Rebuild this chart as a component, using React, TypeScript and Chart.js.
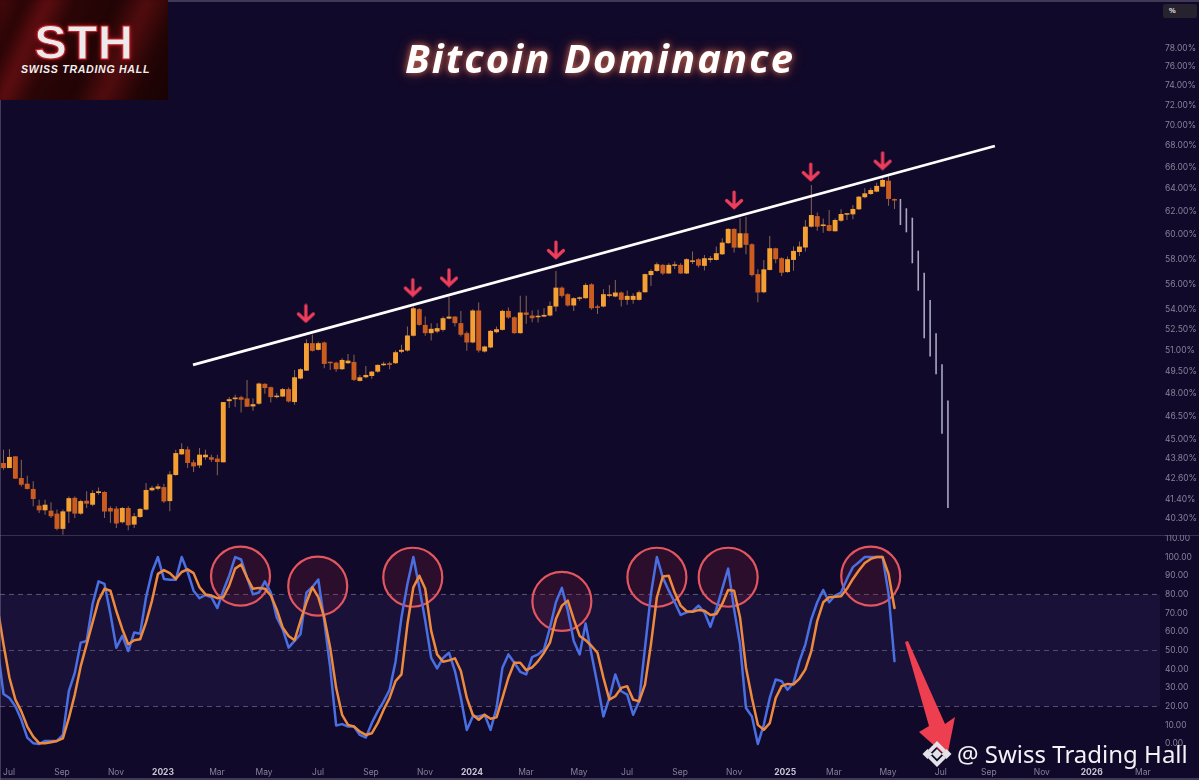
import React, { useEffect, useRef } from "react";
import { Chart, registerables } from "chart.js";

Chart.register(...registerables);

// Weekly candles: index 0 is the first week of the visible range.
const candleOpen = [
  43.55, 43.24, 43.96, 42.64, 42.30, 41.99, 41.02, 40.75, 40.73, 40.56,
  39.70, 40.68, 41.47, 40.56, 41.30, 41.07, 41.75, 41.81, 40.88, 40.85,
  40.07, 40.88, 39.94, 40.37, 40.79, 41.91, 42.00, 42.10, 41.28, 42.82,
  44.08, 44.39, 43.59, 43.40, 43.90, 43.90, 43.82, 43.59, 47.50, 47.63,
  47.77, 47.68, 47.15, 47.33, 48.67, 48.44, 47.77, 47.81, 48.31, 47.44,
  49.03, 49.58, 51.53, 51.05, 51.58, 50.17, 50.14, 49.68, 50.10, 50.19,
  48.87, 49.12, 49.21, 49.51, 49.96, 50.10, 50.10, 50.91, 51.00, 52.07,
  54.05, 52.87, 52.26, 52.38, 52.50, 53.34, 53.49, 53.00, 52.26, 51.58,
  53.95, 50.93, 51.22, 52.33, 52.50, 53.92, 53.44, 52.26, 53.80, 53.57,
  53.44, 53.49, 53.57, 54.25, 55.71, 55.20, 54.33, 54.84, 54.89, 55.97,
  54.25, 54.25, 55.07, 55.02, 55.33, 54.76, 54.76, 54.76, 55.35, 56.70,
  57.03, 57.52, 56.83, 57.44, 57.52, 56.83, 57.76, 57.98, 57.44, 57.92,
  57.92, 58.38, 59.30, 60.50, 58.93, 60.13, 59.21, 56.78, 55.35, 57.11,
  58.88, 58.06, 56.94, 57.92, 58.57, 58.94, 60.69, 61.60, 60.74, 60.83,
  60.30, 61.20, 61.72, 61.75, 62.19, 63.25, 63.54, 63.75, 64.20, 64.74,
  63.08,
];
const candleHigh = [
  44.37, 44.41, 43.96, 43.75, 42.78, 42.44, 41.36, 41.36, 41.21, 40.79,
  40.79, 41.55, 41.55, 41.36, 41.85, 41.91, 42.08, 41.85, 40.98, 40.98,
  40.94, 40.98, 40.60, 40.88, 42.34, 42.18, 42.30, 42.30, 43.04, 44.37,
  44.78, 44.57, 43.75, 44.47, 44.37, 44.06, 44.06, 47.44, 47.77, 47.93,
  47.86, 48.94, 47.70, 48.76, 48.71, 48.49, 48.04, 48.38, 48.42, 49.63,
  49.75, 51.82, 52.14, 51.65, 51.65, 50.21, 50.21, 50.45, 50.76, 50.69,
  49.28, 49.91, 49.56, 50.03, 50.21, 50.21, 51.00, 51.41, 52.75, 54.25,
  54.12, 53.49, 53.00, 53.00, 53.49, 55.02, 53.54, 53.92, 52.38, 54.05,
  54.56, 51.34, 52.50, 52.75, 54.00, 54.17, 53.49, 55.07, 55.07, 53.95,
  54.00, 54.12, 54.63, 57.03, 55.79, 55.28, 54.97, 55.02, 56.05, 56.05,
  54.38, 55.58, 55.92, 56.31, 55.40, 55.48, 55.28, 55.48, 56.83, 57.16,
  57.71, 57.60, 57.65, 57.79, 57.65, 58.06, 58.60, 58.06, 58.33, 58.25,
  59.02, 59.71, 60.55, 60.55, 61.41, 61.55, 59.30, 57.16, 57.92, 59.91,
  58.93, 58.14, 58.19, 59.02, 59.43, 61.26, 64.35, 61.90, 61.40, 62.13,
  61.40, 62.19, 61.84, 62.57, 63.37, 64.05, 64.10, 64.55, 64.97, 65.40,
  63.15,
];
const candleLow = [
  43.14, 43.24, 42.60, 42.14, 41.95, 40.98, 40.60, 40.50, 40.31, 39.62,
  39.38, 40.03, 40.31, 40.50, 40.88, 40.98, 41.65, 40.31, 40.03, 39.75,
  40.00, 39.62, 39.75, 40.31, 40.75, 41.85, 41.91, 41.17, 40.69, 42.78,
  44.04, 43.24, 43.00, 43.24, 43.75, 43.61, 42.80, 43.59, 47.04, 47.11,
  46.75, 47.11, 46.86, 47.26, 47.99, 47.41, 47.70, 47.77, 47.41, 47.26,
  48.99, 49.56, 50.93, 51.00, 49.75, 49.63, 49.51, 49.63, 50.05, 48.87,
  48.83, 49.05, 49.01, 49.44, 49.91, 49.68, 50.05, 50.81, 50.93, 52.02,
  52.80, 52.07, 51.73, 52.26, 52.38, 53.29, 52.75, 52.02, 50.98, 51.53,
  50.86, 50.86, 51.17, 52.26, 52.45, 53.32, 52.21, 52.21, 52.95, 53.07,
  53.05, 53.44, 53.49, 53.87, 54.94, 54.25, 53.92, 54.68, 54.84, 54.00,
  53.69, 54.20, 54.97, 54.97, 54.25, 54.38, 54.46, 54.71, 55.33, 55.84,
  56.97, 56.70, 56.78, 57.19, 56.78, 56.78, 57.60, 57.30, 57.06, 57.71,
  57.87, 58.33, 59.24, 58.52, 58.88, 58.38, 56.58, 54.58, 55.28, 57.06,
  57.65, 56.63, 56.89, 57.05, 58.25, 58.60, 60.63, 60.35, 60.18, 60.27,
  60.27, 61.12, 61.26, 61.32, 62.13, 63.16, 63.45, 63.69, 64.14, 62.50,
  62.22,
];
const candleClose = [
  43.24, 43.92, 42.60, 42.24, 41.99, 41.40, 40.75, 41.07, 40.41, 39.70,
  40.69, 41.45, 40.56, 41.28, 41.13, 41.75, 41.85, 40.68, 40.68, 40.00,
  40.88, 39.90, 40.41, 40.83, 41.93, 42.06, 42.14, 41.26, 42.86, 44.16,
  44.41, 43.55, 43.34, 44.06, 44.06, 43.75, 43.61, 47.44, 47.63, 47.74,
  47.59, 47.13, 47.30, 48.69, 48.38, 47.77, 47.86, 48.31, 47.48, 49.12,
  49.68, 51.53, 50.98, 51.53, 50.05, 50.10, 49.68, 50.33, 50.28, 48.94,
  49.12, 49.28, 49.51, 49.98, 50.05, 49.98, 50.88, 51.05, 52.09, 54.12,
  52.87, 52.26, 52.58, 52.63, 53.37, 53.49, 53.00, 52.14, 51.58, 53.95,
  51.00, 51.29, 52.43, 52.55, 53.92, 53.42, 52.26, 53.80, 53.62, 53.37,
  53.54, 53.62, 54.30, 55.71, 55.07, 54.33, 54.89, 54.94, 55.92, 54.12,
  54.15, 55.20, 55.15, 55.33, 54.76, 55.07, 55.07, 55.35, 56.78, 57.03,
  57.57, 56.83, 57.52, 57.52, 56.83, 57.98, 57.84, 57.46, 58.06, 58.06,
  58.47, 59.35, 60.50, 58.93, 60.13, 59.16, 56.70, 55.33, 57.16, 58.88,
  57.98, 56.89, 57.98, 58.66, 59.02, 60.69, 61.69, 60.69, 60.88, 60.33,
  61.26, 61.78, 61.78, 62.22, 63.30, 63.60, 63.90, 64.27, 64.80, 63.10,
  62.96,
];

// Projected (grey) range bars, following the last candle.
const projectionWeeks = [151, 152, 153, 154, 155, 156, 157, 158, 159];
const projectionHigh = [63.1, 62.28, 61.46, 58.68, 56.89, 54.76, 52.26, 50.03, 47.54];
const projectionLow = [60.83, 60.21, 57.65, 55.47, 51.89, 50.57, 49.33, 45.37, 40.88];

// Resistance trendline.
const trendWeeks = [31.9, 166.9];
const trendLevels = [49.98, 67.97];

// Small red arrows above the touches.
const arrowWeeks = [50.9, 68.9, 75.0, 93.0, 123.0, 135.9, 148.0];
const arrowLevels = [53.73, 55.72, 56.5, 58.74, 63.01, 65.53, 66.58];

// Stochastic RSI lines, first value is the week before index 0.
const stochBlue = [
  51.5, 26.7, 24.6, 20.1, 12.9, 3.4, 0.4, 0, 1.6, 1.6, 1.6,
  4.8, 28.2, 38, 54.2, 55.1, 74.9, 87, 85.6, 69.5, 51.5,
  57.8, 49.7, 59.6, 59, 78.5, 92, 100, 88.3, 87.8, 87.8,
  100, 92, 82, 78, 79.7, 78.5, 72.7, 82, 90, 100,
  98.7, 89, 80, 81, 87, 81, 67.7, 61.4, 51.5, 55.1,
  58.7, 81, 84, 88, 65.9, 40.8, 9.9, 10.6, 9.3, 9.3,
  4.8, 3.4, 11.1, 17.4, 22.8, 29, 44, 67.7, 85.6, 100,
  83.8, 65.9, 46, 40.4, 46, 48.8, 39, 24.6, 7.5, 14.7,
  14.7, 15.6, 7.5, 19.2, 40.8, 47.9, 43.4, 38.6, 37.2, 46.5,
  47.9, 50.6, 62.3, 75.8, 83.5, 71.3, 55.1, 47.9, 64.5, 47.9,
  31.8, 14.7, 24.6, 37.2, 28.2, 26.4, 15.6, 22.8, 51.5, 80.3,
  100, 89, 82, 75.8, 69, 70.4, 71, 74, 70.4, 62.7,
  72, 83, 93.8, 72, 53.3, 19.2, 14.7, 0, 10.2, 24.6,
  34.5, 33.6, 29, 32.7, 44.3, 53.3, 66.8, 75.8, 82.4, 75.8,
  79.4, 81, 88.3, 94.6, 97.2, 100, 100, 100, 100, 80.3,
  44.3,
];
const stochOrange = [
  73, 53.3, 35.4, 23.7, 17.4, 9.3, 3.9, 0.4, 0.4, 0.9, 1.6,
  3, 13.8, 26.4, 41.6, 53.3, 65, 76.7, 83, 82, 71,
  61.4, 53.3, 55.5, 56, 65, 76.7, 91, 93, 91.4, 88.3,
  92, 93.4, 91.4, 83.8, 80, 79.4, 78, 78.5, 84.7, 93.8,
  96, 89, 83, 83.5, 83, 79.4, 72, 62.3, 57.8, 55.5,
  65.9, 75.8, 83.8, 78.5, 67.7, 51.5, 30, 15.6, 10.2, 9.3,
  6.6, 4.8, 5.7, 11.1, 18.3, 24.6, 33.6, 37.2, 64, 83.8,
  90, 83, 60.5, 47.9, 44, 44.7, 45.8, 39, 24.6, 15.6,
  12.9, 15.6, 13.5, 14.2, 24.6, 35.4, 43.4, 43.4, 39.5, 41,
  44.3, 48.8, 54.2, 66.8, 74, 76.7, 66.8, 57.8, 55.5, 52.4,
  48.8, 35.4, 23.7, 25.5, 30, 30.9, 23.7, 22.8, 31.8, 53.3,
  78.5, 89.6, 90, 81, 74, 71, 70.7, 71.6, 71.3, 69,
  69.5, 74.9, 82.4, 82, 67.7, 40.8, 24.6, 10.2, 7.5, 11.1,
  24.6, 30.9, 32.1, 31.8, 35, 39.9, 49.7, 65.9, 75.8, 78.5,
  78.8, 79, 83, 88.3, 92.8, 96.8, 99, 100, 100, 91,
  72.7,
];

// Highlight circles on the oscillator.
const circleWeeks = [39.9, 52.9, 68.9, 94, 110, 122, 146];
const circleLevels = [89.8, 84.4, 89.2, 76.3, 89.2, 89.2, 89.8];

// Axes.
const xTickWeeks = [
  0.93, 9.85, 18.94, 26.85, 35.94, 43.86, 52.95, 61.87, 70.96, 78.87, 87.96, 96.89,
  104.97, 113.9, 123, 131.6, 139.8, 148.9, 157.8, 165.9, 174.8, 183.2, 191.8,
];
const xTickLabels = [
  "Jul", "Sep", "Nov", "2023", "Mar", "May", "Jul", "Sep", "Nov", "2024", "Mar", "May",
  "Jul", "Sep", "Nov", "2025", "Mar", "May", "Jul", "Sep", "Nov", "2026", "Mar",
];
const priceTicks = [
  78, 76, 74, 72, 70, 68, 66, 64, 62, 60, 58, 56, 54, 52.5, 51, 49.5, 48, 46.5, 45, 43.8,
  42.6, 41.4, 40.3,
];
const stochTicks = [110, 100, 90, 80, 70, 60, 50, 40, 30, 20, 10, 0];
const stochBandLevels = [80, 50, 20];

const X_MIN = -0.59;
const X_MAX = 194.7;
const AXIS_FONT = "Inter, Roboto, sans-serif";
const AXIS_COLOR = "#85829a";
const UP = "#f4a033";
const DOWN = "#c95c1e";
const WICK = "rgba(160,125,100,0.8)";

function makeArrowImage(): HTMLCanvasElement {
  const c = document.createElement("canvas");
  c.width = 20;
  c.height = 20;
  const g = c.getContext("2d")!;
  g.strokeStyle = "#ee3e5c";
  g.lineWidth = 3.2;
  g.lineCap = "round";
  g.lineJoin = "miter";
  g.beginPath();
  g.moveTo(10, 2);
  g.lineTo(10, 17);
  g.moveTo(2.5, 10.5);
  g.lineTo(10, 17.5);
  g.lineTo(17.5, 10.5);
  g.stroke();
  return c;
}

const noPlugins = { legend: { display: false }, tooltip: { enabled: false } };

function fitY(s: any) {
  s.width = 39;
  s.paddingTop = 0;
  s.paddingBottom = 0;
}

export default function App() {
  const topRef = useRef<HTMLCanvasElement>(null);
  const bottomRef = useRef<HTMLCanvasElement>(null);

  useEffect(() => {
    const weeks = candleOpen.map((_, i) => i);
    const isUp = (i: number) => candleClose[i] >= candleOpen[i];
    const top = new Chart(topRef.current!, {
      type: "bar",
      data: {
        datasets: [
          {
            type: "bar",
            order: 5,
            grouped: false,
            maxBarThickness: 1,
            barPercentage: 0.9,
            categoryPercentage: 0.9,
            backgroundColor: WICK,
            data: weeks.map((i) => ({ x: i, y: [candleLow[i], candleHigh[i]] })),
          },
          {
            type: "bar",
            order: 4,
            grouped: false,
            barPercentage: 0.92,
            categoryPercentage: 0.9,
            minBarLength: 1.5,
            backgroundColor: weeks.map((i) => (isUp(i) ? UP : DOWN)),
            data: weeks.map((i) => ({ x: i, y: [candleOpen[i], candleClose[i]] })),
          },
          {
            type: "bar",
            order: 3,
            grouped: false,
            maxBarThickness: 1.6,
            barPercentage: 0.9,
            categoryPercentage: 0.9,
            backgroundColor: "#a9a7c2",
            data: projectionWeeks.map((w, i) => ({ x: w, y: [projectionLow[i], projectionHigh[i]] })),
          },
          {
            type: "line",
            order: 2,
            borderColor: "#ffffff",
            borderWidth: 2.8,
            pointRadius: 0,
            data: trendWeeks.map((w, i) => ({ x: w, y: trendLevels[i] })),
          },
          {
            type: "scatter",
            order: 1,
            showLine: false,
            pointStyle: makeArrowImage() as any,
            pointRadius: 10,
            data: arrowWeeks.map((w, i) => ({ x: w, y: arrowLevels[i] })),
          },
        ] as any,
      },
      options: {
        responsive: false,
        animation: false,
        layout: { padding: 0, autoPadding: false },
        plugins: noPlugins as any,
        scales: {
          x: { type: "linear", offset: false, min: X_MIN, max: X_MAX, display: false, grid: { display: false } },
          y: {
            type: "logarithmic",
            position: "right",
            min: 39.36,
            max: 83.44,
            grid: { display: false, drawTicks: false },
            border: { display: false },
            afterFit: fitY,
            afterBuildTicks: (s: any) => {
              s.ticks = priceTicks.map((v) => ({ value: v }));
            },
            ticks: {
              autoSkip: false,
              padding: 5,
              color: AXIS_COLOR,
              font: { family: AXIS_FONT, size: 8.5 },
              callback: (v: any) => Number(v).toFixed(2) + "%",
            },
          },
        } as any,
      },
    });

    const bandLine = {
      type: "line",
      pointRadius: 0,
      borderColor: "rgba(190,188,210,0.42)",
      borderWidth: 1,
      borderDash: [5, 4],
    };
    const lineStyle = { type: "line", borderWidth: 2.5, pointRadius: 0, borderJoinStyle: "round", borderCapStyle: "round" };
    const bottom = new Chart(bottomRef.current!, {
      type: "line",
      data: {
        datasets: [
          ...stochBandLevels.map((level, i) => ({
            ...bandLine,
            order: 10,
            fill: i === 0 ? { value: stochBandLevels[2] } : false,
            backgroundColor: "rgba(62,52,118,0.2)",
            data: [
              { x: X_MIN, y: level },
              { x: X_MAX, y: level },
            ],
          })),
          {
            type: "bubble",
            order: 3,
            borderColor: "#e2565f",
            borderWidth: 2.2,
            backgroundColor: "rgba(130,32,52,0.22)",
            data: circleWeeks.map((w, i) => ({ x: w, y: circleLevels[i], r: 29.5 })),
          },
          {
            ...lineStyle,
            order: 2,
            borderColor: "#4a6fe3",
            data: stochBlue.map((v, i) => ({ x: i - 1, y: v })),
          },
          {
            ...lineStyle,
            order: 1,
            borderColor: "#ee8a3e",
            data: stochOrange.map((v, i) => ({ x: i - 1, y: v })),
          },
        ] as any,
      },
      options: {
        responsive: false,
        animation: false,
        layout: { padding: 0, autoPadding: false },
        plugins: noPlugins as any,
        scales: {
          x: {
            type: "linear",
            min: X_MIN,
            max: X_MAX,
            grid: { display: false, drawTicks: false },
            border: { display: false },
            afterFit: (s: any) => {
              s.height = 18;
              s.paddingLeft = 0;
              s.paddingRight = 0;
            },
            afterBuildTicks: (s: any) => {
              s.ticks = xTickWeeks.map((v) => ({ value: v }));
            },
            ticks: {
              autoSkip: false,
              maxRotation: 0,
              padding: 5,
              color: (c: any) => (/^\d/.test(c.tick?.label ?? "") ? "#c9c7d6" : AXIS_COLOR),
              font: (c: any) => ({
                family: AXIS_FONT,
                size: 8.5,
                weight: /^\d/.test(c.tick?.label ?? "") ? "bold" : "normal",
              }),
              callback: (_: any, i: number) => xTickLabels[i],
            },
          },
          y: {
            type: "linear",
            position: "right",
            min: -9.68,
            max: 111.8,
            grid: { display: false, drawTicks: false },
            border: { display: false },
            afterFit: fitY,
            afterBuildTicks: (s: any) => {
              s.ticks = stochTicks.map((v) => ({ value: v }));
            },
            ticks: {
              autoSkip: false,
              padding: 5,
              color: AXIS_COLOR,
              font: { family: AXIS_FONT, size: 8.5 },
              callback: (v: any) => Number(v).toFixed(2),
            },
          },
        } as any,
      },
    });
    return () => {
      top.destroy();
      bottom.destroy();
    };
  }, []);

  return (
    <div
      style={{
        position: "absolute",
        left: 0,
        top: 0,
        width: 1199,
        height: 780,
        overflow: "hidden",
        background: "#110929",
        fontFamily: "'Liberation Sans', sans-serif",
      }}
    >
      <canvas ref={topRef} width={1199} height={535} style={{ position: "absolute", left: 0, top: 0 }} />
      <canvas ref={bottomRef} width={1199} height={245} style={{ position: "absolute", left: 0, top: 535 }} />

      {/* frame lines */}
      <div style={{ position: "absolute", left: 0, top: 535, width: 1199, height: 1, background: "rgba(125,120,150,0.35)" }} />
      <div style={{ position: "absolute", left: 0, top: 0, width: 1, height: 780, background: "rgba(125,120,150,0.45)" }} />
      <div style={{ position: "absolute", left: 0, top: 0, width: 1199, height: 2, background: "rgba(95,90,115,0.6)" }} />
      <div style={{ position: "absolute", left: 0, top: 778, width: 1199, height: 2, background: "rgba(95,90,115,0.6)" }} />

      {/* % button */}
      <div
        style={{
          position: "absolute",
          left: 1163,
          top: 4,
          width: 34,
          height: 14,
          background: "#26222e",
          borderRadius: 2,
          color: "#e6e4ea",
          fontSize: 7.5,
          fontWeight: 700,
          lineHeight: "14px",
          paddingLeft: 6,
          boxSizing: "border-box",
        }}
      >
        %
      </div>

      {/* logo */}
      <div style={{ position: "absolute", left: 0, top: 0, width: 168, height: 100, overflow: "hidden", background: "#1c0304" }}>
        <div
          style={{
            position: "absolute",
            inset: -4,
            filter: "blur(3px)",
            background:
              "linear-gradient(115deg, #4a0a0c 0%, #2a0405 14%, #5e0d10 24%, #2a0506 36%, #220405 55%, #520c0e 68%, #230405 82%, #150203 100%)",
          }}
        />
        <div
          style={{
            position: "absolute",
            left: 0,
            width: 168,
            textAlign: "center",
            top: 18,
            fontSize: 49,
            lineHeight: "49px",
            fontWeight: 700,
            color: "#eceaea",
            letterSpacing: 0.5,
            WebkitTextStroke: "1px #c3222a",
            textShadow: "0 0 5px #b01a20",
          }}
        >
          STH
        </div>
        <div
          style={{
            position: "absolute",
            left: 0,
            width: 171,
            textAlign: "center",
            top: 63,
            fontSize: 10.6,
            lineHeight: "12px",
            fontWeight: 700,
            fontStyle: "italic",
            color: "#f2efef",
            letterSpacing: 0.7,
          }}
        >
          SWISS TRADING HALL
        </div>
      </div>

      {/* title */}
      <div
        style={{
          position: "absolute",
          left: 300,
          width: 600,
          top: 31,
          textAlign: "center",
          fontFamily: "'Open Sans', sans-serif",
          fontSize: 40,
          lineHeight: "54px",
          fontWeight: 700,
          fontStyle: "italic",
          letterSpacing: 2.1,
          color: "#ffffff",
          textShadow: "0 0 6px rgba(255,130,90,0.75), 0 0 14px rgba(255,110,70,0.4)",
        }}
      >
        Bitcoin Dominance
      </div>

      {/* big arrow and watermark mark */}
      <svg width={1199} height={780} style={{ position: "absolute", left: 0, top: 0 }}>
        <polygon points="905,642 908,641 945,724 955,717 947,757 919,732 929,726" fill="#ee3f50" />
        <g fill="#e3e2e8">
          <polygon points="937,749 942,754 937,759 932,754" />
          <polygon points="929,749 934,754 929,759 924,754" transform="translate(-1.5,0)" />
          <polygon points="945,749 950,754 945,759 940,754" transform="translate(1.5,0)" />
          <polygon points="937,741 946,750 943,752.5 937,746.5 931,752.5 928,750" />
          <polygon points="937,767 946,758 943,755.5 937,761.5 931,755.5 928,758" />
        </g>
      </svg>
      <div
        style={{
          position: "absolute",
          left: 957,
          top: 737,
          fontFamily: "'Noto Sans', sans-serif",
          fontSize: 24,
          lineHeight: "34px",
          color: "#f3f2f6",
          whiteSpace: "nowrap",
        }}
      >
        @ Swiss Trading Hall
      </div>
    </div>
  );
}
